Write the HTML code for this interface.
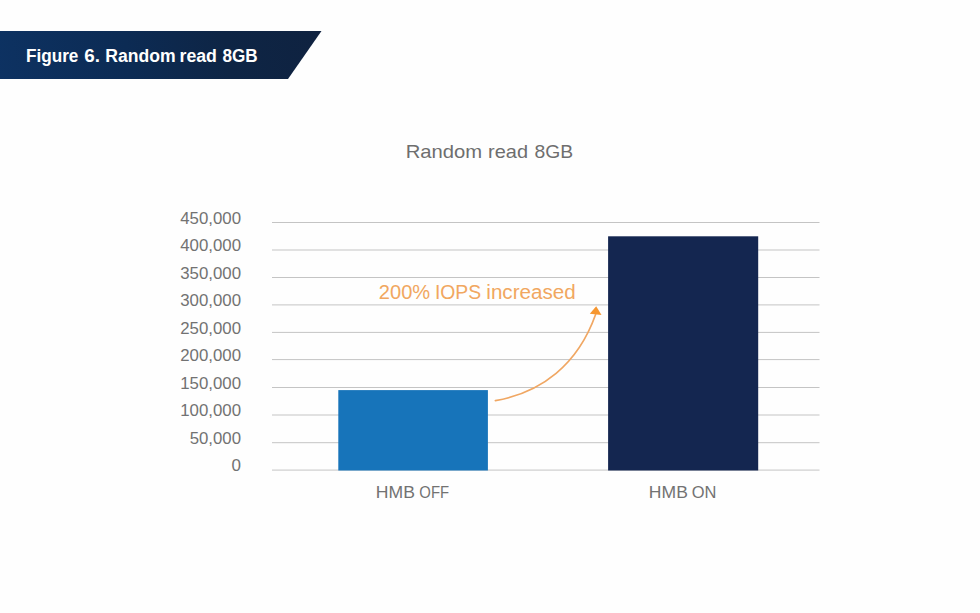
<!DOCTYPE html>
<html>
<head>
<meta charset="utf-8">
<title>Figure 6. Random read 8GB</title>
<style>
  html, body { margin: 0; padding: 0; background: #fefefe; }
  body { width: 980px; height: 613px; overflow: hidden; font-family: "Liberation Sans", sans-serif; }
  svg { display: block; }
  text { font-family: "Liberation Sans", sans-serif; }
</style>
</head>
<body>
<svg width="980" height="613" viewBox="0 0 980 613">
  <defs>
    <linearGradient id="bn" gradientUnits="userSpaceOnUse" x1="0" y1="85" x2="322" y2="25">
      <stop offset="0" stop-color="#0d3262"/>
      <stop offset="0.4" stop-color="#0c2b54"/>
      <stop offset="0.7" stop-color="#0e2545"/>
      <stop offset="1" stop-color="#0f2240"/>
    </linearGradient>
  </defs>
  <rect x="0" y="0" width="980" height="613" fill="#fefefe"/>

  <!-- banner -->
  <polygon points="0,31 321.5,31 288,79 0,79" fill="url(#bn)"/>
  <g font-size="18" font-weight="bold" fill="#ffffff">
    <text x="25.91" y="61.7" textLength="52.48" lengthAdjust="spacingAndGlyphs">Figure</text>
    <text x="84.22" y="61.7" textLength="15.71" lengthAdjust="spacingAndGlyphs">6.</text>
    <text x="105.18" y="61.7" textLength="70.4" lengthAdjust="spacingAndGlyphs">Random</text>
    <text x="179.47" y="61.7" textLength="37.5" lengthAdjust="spacingAndGlyphs">read</text>
    <text x="222.42" y="61.7" textLength="35.2" lengthAdjust="spacingAndGlyphs">8GB</text>
  </g>

  <!-- chart title -->
  <g font-size="19" fill="#6e6e6e">
    <text x="405.7" y="158" textLength="76.51" lengthAdjust="spacingAndGlyphs">Random</text>
    <text x="488.09" y="158" textLength="39.96" lengthAdjust="spacingAndGlyphs">read</text>
    <text x="534.54" y="158" textLength="38.71" lengthAdjust="spacingAndGlyphs">8GB</text>
  </g>

  <!-- gridlines -->
  <g stroke="#c4c4c4" stroke-width="1">
    <line x1="272" x2="819.5" y1="222.5" y2="222.5"/>
    <line x1="272" x2="819.5" y1="250.0" y2="250.0"/>
    <line x1="272" x2="819.5" y1="277.5" y2="277.5"/>
    <line x1="272" x2="819.5" y1="304.9" y2="304.9"/>
    <line x1="272" x2="819.5" y1="332.4" y2="332.4"/>
    <line x1="272" x2="819.5" y1="359.6" y2="359.6"/>
    <line x1="272" x2="819.5" y1="387.5" y2="387.5"/>
    <line x1="272" x2="819.5" y1="415.0" y2="415.0"/>
    <line x1="272" x2="819.5" y1="442.7" y2="442.7"/>
    <line x1="272" x2="819.5" y1="470.1" y2="470.1"/>
  </g>

  <!-- y labels -->
  <g font-size="17" fill="#727272" text-anchor="end">
    <text x="241" y="224" textLength="60.8" lengthAdjust="spacingAndGlyphs">450,000</text>
    <text x="241" y="251.4" textLength="60.8" lengthAdjust="spacingAndGlyphs">400,000</text>
    <text x="241" y="278.9" textLength="60.8" lengthAdjust="spacingAndGlyphs">350,000</text>
    <text x="241" y="306.3" textLength="60.8" lengthAdjust="spacingAndGlyphs">300,000</text>
    <text x="241" y="333.8" textLength="60.8" lengthAdjust="spacingAndGlyphs">250,000</text>
    <text x="241" y="361.2" textLength="60.8" lengthAdjust="spacingAndGlyphs">200,000</text>
    <text x="241" y="388.7" textLength="60.8" lengthAdjust="spacingAndGlyphs">150,000</text>
    <text x="241" y="416.1" textLength="60.8" lengthAdjust="spacingAndGlyphs">100,000</text>
    <text x="241" y="443.6" textLength="51.3" lengthAdjust="spacingAndGlyphs">50,000</text>
    <text x="241" y="471">0</text>
  </g>

  <!-- bars -->
  <rect x="338.3" y="390.1" width="149.6" height="80.4" fill="#1774ba"/>
  <rect x="608.1" y="236.3" width="150.1" height="234.2" fill="#142650"/>

  <!-- x labels -->
  <g font-size="17" fill="#727272">
    <text x="375.77" y="498" textLength="39.12" lengthAdjust="spacingAndGlyphs">HMB</text>
    <text x="419.32" y="498" textLength="29.75" lengthAdjust="spacingAndGlyphs">OFF</text>
    <text x="648.87" y="498" textLength="39.01" lengthAdjust="spacingAndGlyphs">HMB</text>
    <text x="691.65" y="498" textLength="24.7" lengthAdjust="spacingAndGlyphs">ON</text>
  </g>

  <!-- annotation -->
  <g font-size="20" fill="#f1a760">
    <text x="378.8" y="298.9" textLength="51.36" lengthAdjust="spacingAndGlyphs">200%</text>
    <text x="434.9" y="298.9" textLength="46.31" lengthAdjust="spacingAndGlyphs">IOPS</text>
    <text x="486.31" y="298.9" textLength="89.45" lengthAdjust="spacingAndGlyphs">increased</text>
  </g>
  <path d="M495.4,400.7 C541.5,392.4 577.8,364.7 595.6,314.5" fill="none" stroke="#f0a763" stroke-width="1.7" stroke-linecap="round"/>
  <polygon points="596.2,306.2 589.8,313.8 601.5,315.1" fill="#f6962f"/>
</svg>
</body>
</html>
